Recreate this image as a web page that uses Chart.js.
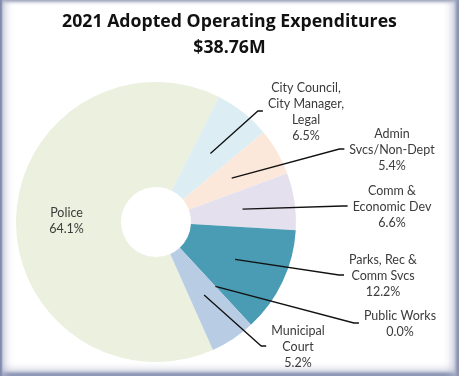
<!DOCTYPE html>
<html>
<head>
<meta charset="utf-8">
<script src="https://cdn.jsdelivr.net/npm/chart.js@4"></script>
<style>
  html, body { margin: 0; padding: 0; background: #fff; }
  #frame {
    position: relative;
    width: 459px;
    height: 376px;
    background: #fff;
    box-shadow: inset 3px 0 2px -1px #7d87a9, inset 8px 0 10px -4px #b4bad0,
                inset -4px 0 3px -1px #8790ad, inset -10px 0 10px -4px #b8bdd2,
                inset 0 3px 3px -1px #a6abc0, inset 0 -4px 3px -1px #7d87a9,
                inset 0 -9px 9px -4px #b4bad0;
  }
  canvas { position: absolute; left: 0; top: 0; }
</style>
</head>
<body>
<div id="frame"><canvas id="expChart" width="459" height="376"></canvas></div>
<script>
// Данные диаграммы
const categories = [
  ["Police"],
  ["City Council,", "City Manager,", "Legal"],
  ["Admin", "Svcs/Non-Dept"],
  ["Comm &", "Economic Dev"],
  ["Parks, Rec &", "Comm Svcs"],
  ["Public Works"],
  ["Municipal", "Court"],
];
const shares = [64.1, 6.5, 5.4, 6.6, 12.2, 0.0, 5.2];
const titleLines = ["2021 Adopted Operating Expenditures", "$38.76M"];

const sliceColors = ["#EBF0DF", "#DCEEF4", "#FCE8DA", "#E5E0EE", "#4A9BB4", "#8EB4E3", "#B8CCE4"];

// где стоят подписи (смещение от центра кольца), null — внутри сектора
const labelOffsets = [null, [150, -110], [236, -72], [236, -15], [227, 54], [244, 102], [142, 125]];

const FONT = "Lato, 'Open Sans', sans-serif";

// заголовок по центру всего холста
const titlePlugin = {
  id: "centerTitle",
  afterDraw(chart) {
    const ctx = chart.ctx;
    ctx.save();
    ctx.font = "bold 17.7px 'Open Sans', sans-serif";
    ctx.fillStyle = "#111";
    ctx.textAlign = "center";
    ctx.textBaseline = "middle";
    titleLines.forEach((t, k) => ctx.fillText(t, chart.width / 2, 22 + k * 26));
    ctx.restore();
  },
};

// подписи с выносками
const calloutPlugin = {
  id: "callouts",
  afterDatasetsDraw(chart) {
    const ctx = chart.ctx;
    const arcs = chart.getDatasetMeta(0).data;
    const cx = arcs[0].x, cy = arcs[0].y;
    ctx.save();
    ctx.font = "12.5px " + FONT;
    ctx.fillStyle = "#3b3b3b";
    ctx.textAlign = "center";
    ctx.textBaseline = "middle";
    const lh = 16;
    arcs.forEach((arc, i) => {
      const lines = [...chart.data.labels[i], shares[i].toFixed(1) + "%"];
      const pos = arc.tooltipPosition();
      let bx, by;
      if (labelOffsets[i]) {
        bx = cx + labelOffsets[i][0];
        by = cy + labelOffsets[i][1];
        const maxW = Math.max(...lines.map((l) => ctx.measureText(l).width));
        const ex = bx - maxW / 2 - 5;
        ctx.strokeStyle = "#111";
        ctx.lineWidth = 1.3;
        ctx.beginPath();
        ctx.moveTo(pos.x, pos.y);
        ctx.lineTo(ex - 5, by - 1);
        ctx.lineTo(ex, by - 1);
        ctx.stroke();
      } else {
        bx = pos.x - 2;
        by = pos.y + 1;
      }
      const top = by - ((lines.length - 1) * lh) / 2;
      lines.forEach((l, k) => ctx.fillText(l, bx, top + k * lh));
    });
    ctx.restore();
  },
};

new Chart(document.getElementById("expChart"), {
  type: "doughnut",
  data: {
    labels: categories,
    datasets: [
      {
        data: shares,
        backgroundColor: sliceColors,
        borderWidth: 0,
      },
    ],
  },
  options: {
    responsive: false,
    animation: false,
    cutout: "25%",
    rotation: 156,
    layout: { padding: { left: 16, right: 163, top: 80, bottom: 12 } },
    plugins: {
      legend: { display: false },
      tooltip: { enabled: false },
      title: { display: false },
    },
  },
  plugins: [calloutPlugin, titlePlugin],
});
</script>
</body>
</html>
